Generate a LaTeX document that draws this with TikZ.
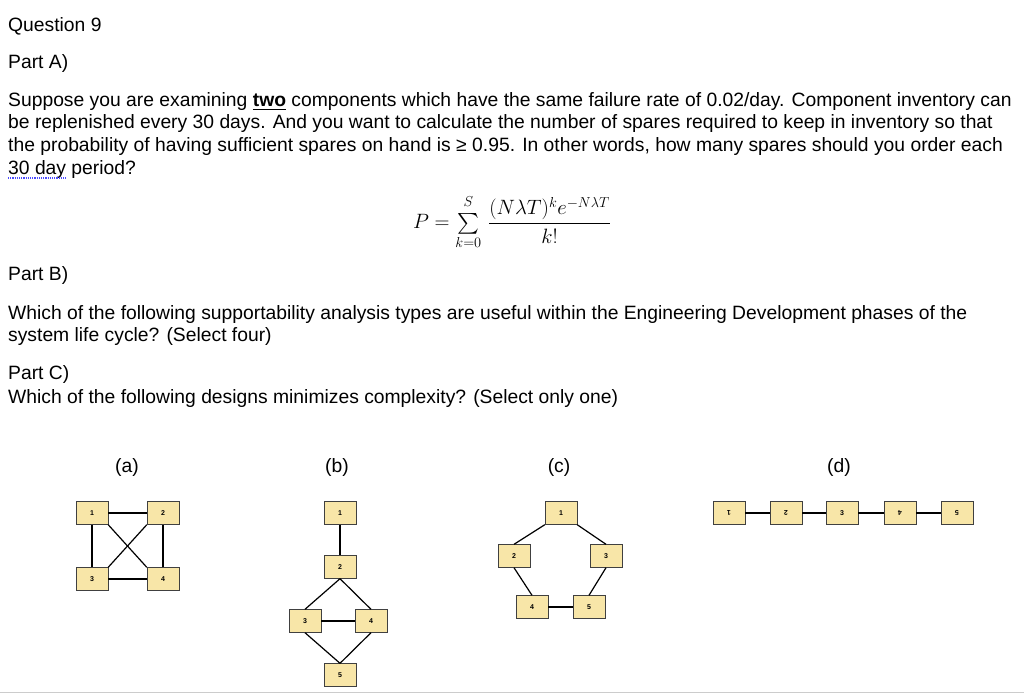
\documentclass[tikz,border=0pt]{standalone}
\usepackage{fontspec}
\setmainfont{Liberation Sans}
\usepackage{amsmath}
\begin{document}
\begin{tikzpicture}[x=1pt,y=-1pt,
 txt/.style={anchor=base west,inner sep=0pt,font=\fontsize{19.3}{22}\selectfont},
 bx/.style={draw=black!75,fill=yellowfill,minimum width=32pt,minimum height=23pt,inner sep=0pt,font=\fontsize{7}{8}\selectfont\bfseries},
 ed/.style={line width=1.2pt}]
\definecolor{yellowfill}{HTML}{F8E6A8}
\useasboundingbox (0,0) rectangle (1024,694);
\node[txt] (q) at (8,31) {Question 9};
\node[txt] (pa) at (8,68) {Part A)};
\node[txt] (l1) at (8,106) {Suppose you are examining \textbf{\underline{two}} components which have the same failure rate of 0.02/day. Component inventory can};
\node[txt] (l2) at (8,128) {be replenished every 30 days. And you want to calculate the number of spares required to keep in inventory so that};
\node[txt] (l3) at (8,151) {the probability of having sufficient spares on hand is ≥ 0.95. In other words, how many spares should you order each};
\node[txt] (l4) at (8,174) {30 day period?};
\draw[blue!70,densely dotted,line width=1.2pt] (8,178) -- (66,178);
\node[anchor=center,inner sep=0pt,font=\fontsize{22}{26}\selectfont] (f) at (512,222) {$P=\sum\limits_{k=0}^{\raisebox{3pt}{$\scriptstyle S$}}\,\dfrac{(N\lambda T)^k e^{-N\lambda T}}{k!}$};
\node[txt] (pb) at (8,280) {Part B)};
\node[txt] (b1) at (8,319) {Which of the following supportability analysis types are useful within the Engineering Development phases of the};
\node[txt] (b2) at (8,341) {system life cycle? (Select four)};
\node[txt] (pc) at (8,379) {Part C)};
\node[txt] (c1) at (8,403) {Which of the following designs minimizes complexity? (Select only one)};
\node[txt,anchor=base] (la) at (127,472) {(a)};
\node[txt,anchor=base] (lb) at (337,472) {(b)};
\node[txt,anchor=base] (lc) at (559,472) {(c)};
\node[txt,anchor=base] (ld) at (839,472) {(d)};
% (a)
\node[bx] (a1) at (92,513) {1};
\node[bx] (a2) at (163,513) {2};
\node[bx] (a3) at (92,579) {3};
\node[bx] (a4) at (163,579) {4};
\draw[ed] (a1) -- (a2); \draw[ed] (a1) -- (a3); \draw[ed] (a2) -- (a4); \draw[ed] (a3) -- (a4);
\draw[ed] (a1.south east) -- (a4.north west); \draw[ed] (a2.south west) -- (a3.north east);
% (b)
\node[bx] (b1n) at (340,513) {1};
\node[bx] (b2n) at (340,567) {2};
\node[bx] (b3n) at (305,621) {3};
\node[bx] (b4n) at (371,621) {4};
\node[bx] (b5n) at (340,675) {5};
\draw[ed] (b1n) -- (b2n);
\draw[ed] (b2n.south) -- (b3n.north); \draw[ed] (b2n.south) -- (b4n.north);
\draw[ed] (b3n) -- (b4n);
\draw[ed] (b3n.south) -- (b5n.north); \draw[ed] (b4n.south) -- (b5n.north);
% (c)
\node[bx] (c1n) at (561,513) {1};
\node[bx] (c2n) at (514,556) {2};
\node[bx] (c3n) at (606,556) {3};
\node[bx] (c4n) at (532,607) {4};
\node[bx] (c5n) at (589,607) {5};
\draw[ed] (c1n.south west) -- (c2n.north); \draw[ed] (c1n.south east) -- (c3n.north);
\draw[ed] (c2n.south) -- (c4n.north); \draw[ed] (c3n.south) -- (c5n.north);
\draw[ed] (c4n) -- (c5n);
% (d)
\node[bx] (d1) at (729,513) {\rotatebox{180}{1}};
\node[bx] (d2) at (786,513) {\rotatebox{180}{2}};
\node[bx] (d3) at (842,513) {3};
\node[bx] (d4) at (900,513) {\rotatebox{180}{4}};
\node[bx] (d5) at (957,513) {\rotatebox{180}{5}};
\draw[ed] (d1) -- (d2); \draw[ed] (d2) -- (d3); \draw[ed] (d3) -- (d4); \draw[ed] (d4) -- (d5);
\draw[black!20] (0,692) -- (1024,692);
\end{tikzpicture}
\end{document}
